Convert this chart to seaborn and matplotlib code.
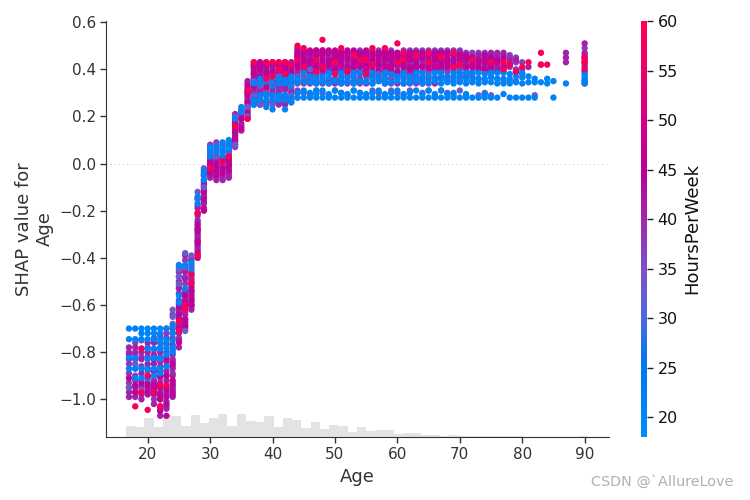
import matplotlib
matplotlib.use("Agg")
import matplotlib.pyplot as plt
from matplotlib.colors import LinearSegmentedColormap, Normalize
from matplotlib.cm import ScalarMappable
import pandas as pd
import seaborn as sns

# hours per week of each group of points
HOURS_VIOLET = 38
HOURS_PLUM = 44
HOURS_MAGENTA = 47
HOURS_PURPLE = 41
HOURS_SLATE = 33
HOURS_BLUE = 21
HOURS_RED = 58

# shap values, age -> values
violet_pts = {
    17: [-.80, -.85, -.89, -.93], 18: [-.76, -.81, -.87, -.90, -.97], 19: [-.75, -.82, -.86, -.92, -.94],
    20: [-.78, -.82, -.87, -.91, -.96], 21: [-.74, -.79, -.83, -.88, -.93, -1.0],
    22: [-.73, -.78, -.82, -.86, -.91, -.95, -.99], 23: [-.72, -.76, -.82, -.86, -.90, -.97, -1.03],
    24: [-.64, -.70, -.74, -.79, -.83, -.86, -.89, -.95], 25: [-.44, -.48, -.52, -.55, -.58, -.62, -.65, -.68, -.74],
    26: [-.41, -.45, -.48, -.51, -.54, -.57, -.60, -.63, -.66, -.69], 27: [-.40, -.44, -.46, -.48, -.50, -.54, -.58, -.61],
    28: [-.15, -.18, -.21, -.24, -.27, -.30, -.32, -.35, -.37], 29: [-.04, -.07, -.10, -.13, -.16, -.19],
    30: [.08, .06, .04, .01, -.01, -.03, -.05], 31: [.09, .06, .04, .02, .0, -.02, -.04, -.06],
    32: [.08, .05, .02, .0, -.01, -.03, -.06], 33: [.09, .07, .04, .01, -.02, -.05],
    34: [.20, .18, .15, .12, .09, .07], 35: [.23, .21, .19, .16], 36: [.34, .31, .28, .26, .23, .20],
    37: [.42, .40, .37, .35, .32, .30, .27, .26], 38: [.43, .41, .38, .35, .33, .31, .28, .26],
    39: [.42, .41, .39, .36, .34, .31, .29, .26], 40: [.43, .41, .38, .35, .33, .31, .28, .26],
    41: [.42, .39, .36, .35, .32, .31, .28, .25], 42: [.43, .40, .38, .35, .33, .31, .29, .26],
    43: [.43, .41, .37, .35, .32, .31, .28, .26],
    44: [.47, .46, .44, .42, .39, .35, .31], 45: [.48, .46, .43, .41, .39, .37, .34],
    46: [.47, .45, .43, .41, .38, .36], 47: [.48, .46, .43, .41, .39, .37, .34],
    48: [.48, .46, .43, .41, .39, .35], 49: [.47, .45, .42, .41, .39, .36, .34],
    50: [.47, .45, .43, .40, .39, .36], 51: [.48, .46, .44, .41, .39, .36, .34],
    52: [.47, .45, .42, .40, .37, .35], 53: [.47, .45, .43, .41, .39, .37, .34],
    54: [.48, .46, .43, .41, .39, .36, .34], 55: [.47, .45, .43, .39, .37, .35],
    56: [.48, .44, .43, .40, .39, .37, .34], 57: [.48, .46, .42, .39, .37, .36],
    58: [.48, .45, .44, .40, .39, .36], 59: [.48, .46, .44, .43, .39, .36, .34],
    60: [.47, .45, .43, .41, .39, .37], 61: [.48, .45, .43, .41, .39, .37, .34],
    62: [.48, .46, .43, .42, .39, .36, .34], 63: [.48, .45, .44, .42, .38, .35, .34],
    64: [.48, .45, .43, .41, .39, .37, .34], 65: [.48, .44, .43, .41, .39, .36, .34],
    66: [.48, .45, .44, .40, .39, .36], 67: [.48, .45, .43, .41, .39, .36],
    68: [.48, .45, .43, .40, .39, .37], 69: [.48, .45, .43, .41, .39, .37],
    70: [.48, .46, .44, .41, .40, .38, .35], 71: [.47, .45, .44, .42, .40, .37],
    72: [.47, .46, .43, .41, .39, .37], 73: [.47, .45, .44, .42, .40],
    74: [.47, .46, .44, .43, .41, .39], 75: [.46, .45, .43, .41, .39], 76: [.46, .44, .42, .40],
    77: [.46, .44, .42, .39], 78: [.46, .45, .43, .41], 79: [.45, .43, .40],
    80: [.43, .40], 90: [.49, .46, .44, .42, .39],
}
plum_pts = {
    18: [-.94], 20: [-.97], 21: [-.83, -.96], 22: [-.98, -1.05], 23: [-.99, -1.02], 24: [-.94, -.98],
    25: [-.61, -.64], 26: [-.56, -.68], 27: [-.54, -.58, -.60], 28: [-.26, -.29, -.34, -.40],
    29: [-.09, -.15, -.20], 30: [-.04, .0], 31: [-.03, .0], 32: [-.02, .02], 33: [-.01, .02],
    34: [.17, .13, .10], 36: [.30, .26, .22], 37: [.41, .38, .36], 38: [.42, .41, .37],
    39: [.41, .39, .36], 40: [.42, .38, .34], 41: [.41, .39, .35], 42: [.42, .40, .37], 43: [.41, .38],
    44: [.47, .45, .42], 45: [.46, .43, .41], 46: [.48, .44, .41], 47: [.46, .43, .40],
    48: [.48, .46, .42], 49: [.47, .44, .42], 50: [.48, .44, .40], 51: [.47, .44, .42],
    52: [.47, .45, .41], 53: [.48, .44, .42], 54: [.47, .43, .41], 55: [.48, .45, .41],
    56: [.46, .44, .42], 57: [.47, .44, .42], 58: [.46, .45, .41], 59: [.47, .44, .41],
    60: [.46, .44, .42], 61: [.46, .45, .42], 62: [.47, .44, .41], 63: [.46, .44, .41],
    64: [.47, .45, .41], 65: [.46, .44, .42], 66: [.47, .45, .41], 67: [.46, .44, .41],
    68: [.47, .44, .41], 69: [.46, .44, .42], 70: [.45, .42], 71: [.46, .44], 72: [.45, .42],
    73: [.44, .41], 74: [.46, .43], 75: [.45, .41], 76: [.44], 77: [.45, .41],
}
magenta_pts = {
    17: [-.91], 18: [-.97], 19: [-.93, -.97], 20: [-.90, -.94], 21: [-.88, -.94, -.97],
    22: [-.90, -.95, -1.0, -1.03], 23: [-.83, -.90, -.96, -1.07], 24: [-.85, -.92, -.97],
    25: [-.66, -.70, -.76], 26: [-.59, -.66, -.69], 27: [-.52, -.56, -.60], 28: [-.28, -.33, -.38],
    29: [-.12, -.19], 30: [.01, -.03], 31: [-.01, -.05], 32: [.02, -.04], 33: [.0, -.03],
    34: [.18, .14, .11], 35: [.19, .15], 36: [.33, .29, .25], 37: [.42, .39, .33],
    38: [.43, .40, .36], 39: [.42, .38, .32], 40: [.43, .39, .35], 41: [.42, .40, .37],
    42: [.43, .41, .36], 43: [.42, .39, .35], 44: [.49, .46, .41], 45: [.48, .44, .40],
    46: [.47, .43, .39], 47: [.48, .45, .41], 48: [.47, .44, .40], 49: [.48, .43, .39],
    50: [.47, .45, .41], 51: [.46, .42, .39], 52: [.48, .44, .40], 53: [.47, .43, .41],
    54: [.46, .44, .39], 55: [.47, .42, .40], 56: [.47, .45, .41], 57: [.46, .43, .39],
    58: [.47, .44, .41], 59: [.46, .42, .40], 60: [.47, .45, .39], 61: [.47, .43, .41],
    62: [.46, .44, .40], 63: [.47, .42, .39], 64: [.46, .45, .41], 65: [.47, .43, .40],
    66: [.46, .44, .41], 67: [.47, .42], 68: [.46, .43], 69: [.47, .41], 70: [.46, .43],
    71: [.45, .41], 72: [.44, .41], 73: [.43, .40], 74: [.44, .40], 75: [.42], 76: [.43, .39],
    77: [.40], 78: [.42], 79: [.39], 90: [.45, .43],
}
purple_pts = {
    17: [-.78, -.81, -.83, -.95, -.97, -.99], 18: [-.78, -.80, -.83, -.92, -.95, -.99],
    19: [-.80, -.83, -.89, -.95, -.98, -1.0], 20: [-.76, -.80, -.85, -.93, -.95, -.98],
    21: [-.76, -.81, -.85, -.92, -.95, -.98, -1.02],
    22: [-.76, -.80, -.84, -.88, -.93, -.97, -1.0, -1.04, -1.07],
    23: [-.70, -.74, -.80, -.84, -.88, -.92, -.95, -.98, -1.01, -1.04],
    24: [-.72, -.77, -.81, -.84, -.87, -.90, -.93, -.96, -.99],
    25: [-.46, -.50, -.53, -.60, -.63, -.66, -.69, -.72, -.75, -.78],
    26: [-.39, -.46, -.49, -.55, -.58, -.61, -.64, -.67, -.70],
    27: [-.41, -.49, -.51, -.53, -.55, -.57, -.59, -.62],
    28: [-.19, -.22, -.25, -.28, -.31, -.33, -.36, -.39], 29: [-.05, -.08, -.11, -.14, -.17],
    30: [.02, .0, -.02, -.04, -.06], 31: [.03, .01, -.01, -.03, -.05, -.07],
    32: [.03, .01, -.02, -.05, -.07], 33: [.05, .02, -.01, -.04, -.06],
    34: [.21, .19, .16, .13, .10, .08], 35: [.20, .17, .14], 36: [.35, .32, .30, .27, .24, .21, .19],
    37: [.43, .41, .38, .36, .31, .28], 38: [.42, .39, .37, .32, .30, .25],
    39: [.43, .40, .37, .33, .30, .26], 40: [.42, .40, .37, .32, .30, .26],
    41: [.43, .41, .38, .33, .30, .26], 42: [.42, .39, .37, .32, .28, .25],
    43: [.43, .40, .38, .34, .30, .27], 44: [.48, .45, .43, .40, .38, .34], 45: [.47, .45, .42, .40, .35],
    46: [.46, .44, .42, .40, .37, .34], 47: [.47, .44, .42, .40, .35], 48: [.47, .45, .42, .38, .34],
    49: [.46, .44, .41, .40, .35], 50: [.46, .44, .42, .38, .34], 51: [.47, .45, .43, .40, .35],
    52: [.46, .43, .41, .38, .34], 53: [.46, .44, .42, .40, .35], 54: [.47, .45, .42, .38],
    55: [.46, .44, .41, .40, .34], 56: [.46, .43, .42, .38], 57: [.47, .45, .41, .40, .35],
    58: [.46, .43, .42, .38, .34], 59: [.47, .45, .41, .40], 60: [.46, .44, .42, .38, .34],
    61: [.46, .44, .42, .40], 62: [.47, .45, .41, .38, .35], 63: [.46, .43, .41, .40],
    64: [.47, .44, .42, .35], 65: [.46, .45, .42, .40], 66: [.47, .43, .42, .34], 67: [.46, .44, .40],
    68: [.47, .44, .42, .35], 69: [.46, .44, .42, .40], 70: [.47, .45, .42], 71: [.46, .43, .41],
    72: [.45, .42, .35], 73: [.46, .43, .41], 74: [.45, .42, .40], 75: [.47, .44, .42, .40],
    76: [.47, .45, .43, .41], 77: [.47, .41], 78: [.44, .42], 79: [.44], 81: [.41],
    83: [.42], 87: [.47, .45, .43], 90: [.51, .47, .41, .35, .34],
}
slate_pts = {
    17: [-.95], 18: [-.85], 19: [-.96], 20: [-.88], 21: [-.90], 22: [-.83], 23: [-.77],
    24: [-.62, -.65, -.68], 25: [-.45, -.48, -.51], 26: [-.38, -.44, -.71], 27: [-.39, -.43],
    28: [-.12, -.15], 29: [-.02, -.10], 30: [.06, .04], 31: [.08, .03], 32: [.06], 33: [.09, .04],
    34: [.20, .08], 35: [.22], 36: [.24, .20], 37: [.35, .29, .25], 38: [.33, .28, .25],
    39: [.35, .30, .25], 40: [.34, .29, .25], 41: [.37, .27], 42: [.35, .27], 43: [.36, .29],
    44: [.37, .30, .28], 45: [.36, .30], 46: [.40, .35, .29], 47: [.38, .31], 48: [.36, .30],
    49: [.38, .29], 50: [.35, .31], 51: [.37, .30], 52: [.39, .29], 53: [.36, .31], 54: [.35, .30],
    55: [.38, .29], 56: [.36, .31], 57: [.38, .30], 58: [.35, .29], 59: [.37, .31], 60: [.36, .30],
    61: [.38, .29], 62: [.35, .31], 63: [.37], 64: [.36, .30], 65: [.38, .31], 66: [.35, .29],
    67: [.37, .31], 68: [.36, .30], 69: [.35, .29], 70: [.37, .31], 71: [.36, .29], 72: [.38],
    73: [.36, .29], 74: [.35, .30], 75: [.37, .29], 76: [.36], 77: [.35], 78: [.35], 79: [.35],
    80: [.38], 82: [.29],
}
blue_pts = {
    17: [-.70, -.745, -.825, -.87], 18: [-.70, -.745, -.825, -.87, -.91],
    19: [-.70, -.745, -.72, -.785, -.87, -.91], 20: [-.70, -.745, -.72, -.785, -.87, -.91, -.83],
    21: [-.70, -.745, -.72, -.785, -.825, -.87, -.90],
    22: [-.70, -.745, -.72, -.76, -.785, -.825, -.87, -.89],
    23: [-.70, -.745, -.765, -.785, -.81, -.86], 24: [-.69, -.72, -.75, -.78, -.80],
    25: [-.43, -.56, -.59], 26: [-.43, -.53], 27: [-.42, -.45, -.47], 28: [-.14, -.17],
    29: [-.03, -.05, -.07], 30: [.07, .05, .03], 31: [.07, .05], 32: [.09, .07, .05, .03],
    33: [.10, .08, .06], 34: [.19], 35: [.24, .22], 37: [.34, .27, .25],
    38: [.36, .34, .29, .27], 39: [.35, .29, .27, .24], 40: [.36, .33, .29, .27, .23],
    41: [.36, .34, .29, .27], 42: [.36, .34, .29, .27, .23], 43: [.37, .35, .33, .28, .26],
    44: [.36, .345, .30, .28], 45: [.385, .35, .31, .28], 46: [.37, .345, .30, .28],
    47: [.385, .36, .34, .31, .295, .28], 48: [.37, .345, .31, .28], 49: [.385, .365, .34, .295, .28],
    50: [.38, .35, .31, .28], 51: [.385, .36, .34, .30, .28], 52: [.37, .345, .295, .28],
    53: [.385, .365, .34, .31, .28], 54: [.385, .35, .30, .28], 55: [.37, .345, .295, .28],
    56: [.385, .36, .34, .30, .28], 57: [.37, .35, .31, .28], 58: [.385, .36, .34, .295, .28],
    59: [.38, .345, .30, .28], 60: [.37, .35, .31, .28], 61: [.385, .36, .34, .295, .28],
    62: [.37, .345, .30, .28], 63: [.385, .365, .35, .31, .28], 64: [.385, .36, .34, .295, .28],
    65: [.37, .345, .31, .28], 66: [.385, .365, .35, .295, .28], 67: [.385, .36, .34, .31, .28],
    68: [.37, .345, .295, .28], 69: [.385, .36, .34, .30, .28], 70: [.385, .365, .345, .28],
    71: [.385, .36, .34, .295, .28], 72: [.385, .365, .345, .28], 73: [.385, .36, .34, .28],
    74: [.38, .36, .345, .295, .28], 75: [.385, .365, .345, .28], 76: [.385, .36, .34, .28],
    77: [.385, .36, .34, .295], 78: [.38, .36, .34, .28], 79: [.39, .37, .345, .28],
    80: [.385, .365, .34, .28], 81: [.37, .345, .28], 82: [.36, .345, .28], 83: [.345],
    84: [.36, .34], 85: [.35, .28], 87: [.34],
    90: [.39, .38, .37, .36, .35, .34],
}
red_pts = {
    18: [-1.03], 19: [-.785, -.97], 20: [-1.045, -.90], 21: [-.97], 22: [-.94, -1.03], 23: [-.94],
    25: [-.67, -.71], 26: [-.60, -.62], 27: [-.47, -.505], 28: [-.39, -.21], 30: [-.02], 32: [.01],
    33: [.03], 34: [.16], 36: [.19, .31], 37: [.43], 39: [.43, .36], 40: [.43, .37],
    41: [.43, .40], 42: [.43, .38], 43: [.42], 44: [.50, .44], 45: [.49, .41], 47: [.44, .39],
    48: [.525, .41], 50: [.43, .38], 51: [.49], 52: [.39], 53: [.46], 54: [.44], 55: [.44, .38],
    56: [.42, .49], 58: [.49], 60: [.51, .43], 61: [.47, .44], 63: [.46], 65: [.47, .43],
    67: [.45], 69: [.41, .47], 70: [.42], 72: [.44], 75: [.43], 77: [.40, .43], 78: [.42],
    79: [.39], 80: [.41], 81: [.43], 83: [.47, .42], 84: [.42], 90: [.45, .43, .40],
}

# marginal histogram of age
hist_ages = [17.24, 18.72, 20.2, 21.68, 23.16, 24.64, 26.12, 27.6, 29.08, 30.56,
             32.04, 33.52, 35, 36.48, 37.96, 39.44, 40.92, 42.4, 43.88, 45.36,
             46.84, 48.32, 49.8, 51.28, 52.76, 54.24, 55.72, 57.2, 58.68, 60.16,
             61.64, 63.12, 64.6, 66.08, 67.56, 69.04, 70.52, 72, 73.48, 74.96,
             76.44, 77.92, 79.4, 80.88, 82.36, 83.84, 85.32, 86.8, 88.28, 89.76]
hist_counts = [34, 30, 57, 30, 67, 64, 34, 67, 42, 58,
               70, 34, 70, 49, 45, 64, 30, 58, 52, 28,
               46, 24, 37, 34, 15, 30, 19, 22, 22, 10,
               13, 11, 7, 7, 4, 7, 4, 4, 4, 4,
               4, 4, 4, 1, 1, 1, 1, 1, 1, 4]

x_ticks = [20, 30, 40, 50, 60, 70, 80, 90]
y_ticks = [-1.0, -0.8, -0.6, -0.4, -0.2, 0.0, 0.2, 0.4, 0.6]
cbar_ticks = [20, 25, 30, 35, 40, 45, 50, 55, 60]

# same look as the shap red_blue colormap
red_blue = LinearSegmentedColormap.from_list(
    "red_blue",
    [(0.0, "#008bfb"), (0.17, "#0078ee"), (0.29, "#4f68dc"), (0.40, "#7c52c4"),
     (0.52, "#9c2bae"), (0.64, "#b8009c"), (0.76, "#d4008a"), (1.0, "#ff0051")],
)


def juntar(pts, hours):
    rows = []
    for age, values in pts.items():
        for v in values:
            rows.append({"Age": age, "shap": v, "hours": hours})
    return rows


# violet at the back so the magenta shows through the upper band
rows = (juntar(violet_pts, HOURS_VIOLET) + juntar(purple_pts, HOURS_PURPLE)
        + juntar(plum_pts, HOURS_PLUM) + juntar(magenta_pts, HOURS_MAGENTA)
        + juntar(slate_pts, HOURS_SLATE) + juntar(blue_pts, HOURS_BLUE)
        + juntar(red_pts, HOURS_RED))
df = pd.DataFrame(rows)

sns.set_style("white")
fig = plt.figure(figsize=(7.5, 5), dpi=100)
ax = fig.add_axes([106.5 / 750, 1 - 437 / 500, 502.5 / 750, 416 / 500])

# histogram goes on a hidden twin axis under the points
ax2 = ax.twinx()
sns.histplot(x=hist_ages, weights=hist_counts, bins=50, binrange=(16.5, 90.5),
             color="black", alpha=0.11, linewidth=0, ax=ax2)
ax2.set_ylim(0, 1248)
ax2.axis("off")
ax.set_zorder(ax2.get_zorder() + 1)
ax.patch.set_visible(False)

ax.axhline(0, color="#888888", lw=0.5, dashes=(1, 5), zorder=-1)
sns.scatterplot(data=df, x="Age", y="shap", hue="hours", palette=red_blue,
                hue_norm=(18, 60), s=21, linewidth=0, legend=False, ax=ax)

ax.set_xlim(13.4, 93.9)
ax.set_ylim(-1.16, 0.605)
ax.set_xticks(x_ticks)
ax.set_yticks(y_ticks)
ax.set_xlabel("Age", fontsize=13, color="#333333")
ax.set_ylabel("SHAP value for\nAge", fontsize=13, color="#333333")
ax.tick_params(axis="both", length=4, width=1, color="#333333", labelcolor="#333333",
               labelsize=11, left=True, bottom=True)
sns.despine(ax=ax)
ax.spines["left"].set_color("#333333")
ax.spines["bottom"].set_color("#333333")

cax = fig.add_axes([641 / 750, 1 - 437 / 500, 6 / 750, 416 / 500])
cb = fig.colorbar(ScalarMappable(norm=Normalize(18, 60), cmap=red_blue), cax=cax)
cb.set_ticks(cbar_ticks)
cb.ax.tick_params(length=4, width=1, labelsize=11.5, color="#222222", labelcolor="#111111")
cb.outline.set_visible(False)
cb.set_label("HoursPerWeek", fontsize=13, color="#111111", labelpad=4)

fig.text(0.788, 0.029, "CSDN @`AllureLove", fontsize=10.4, color="#b0b0b0")

plt.savefig("out.png", dpi=100)
